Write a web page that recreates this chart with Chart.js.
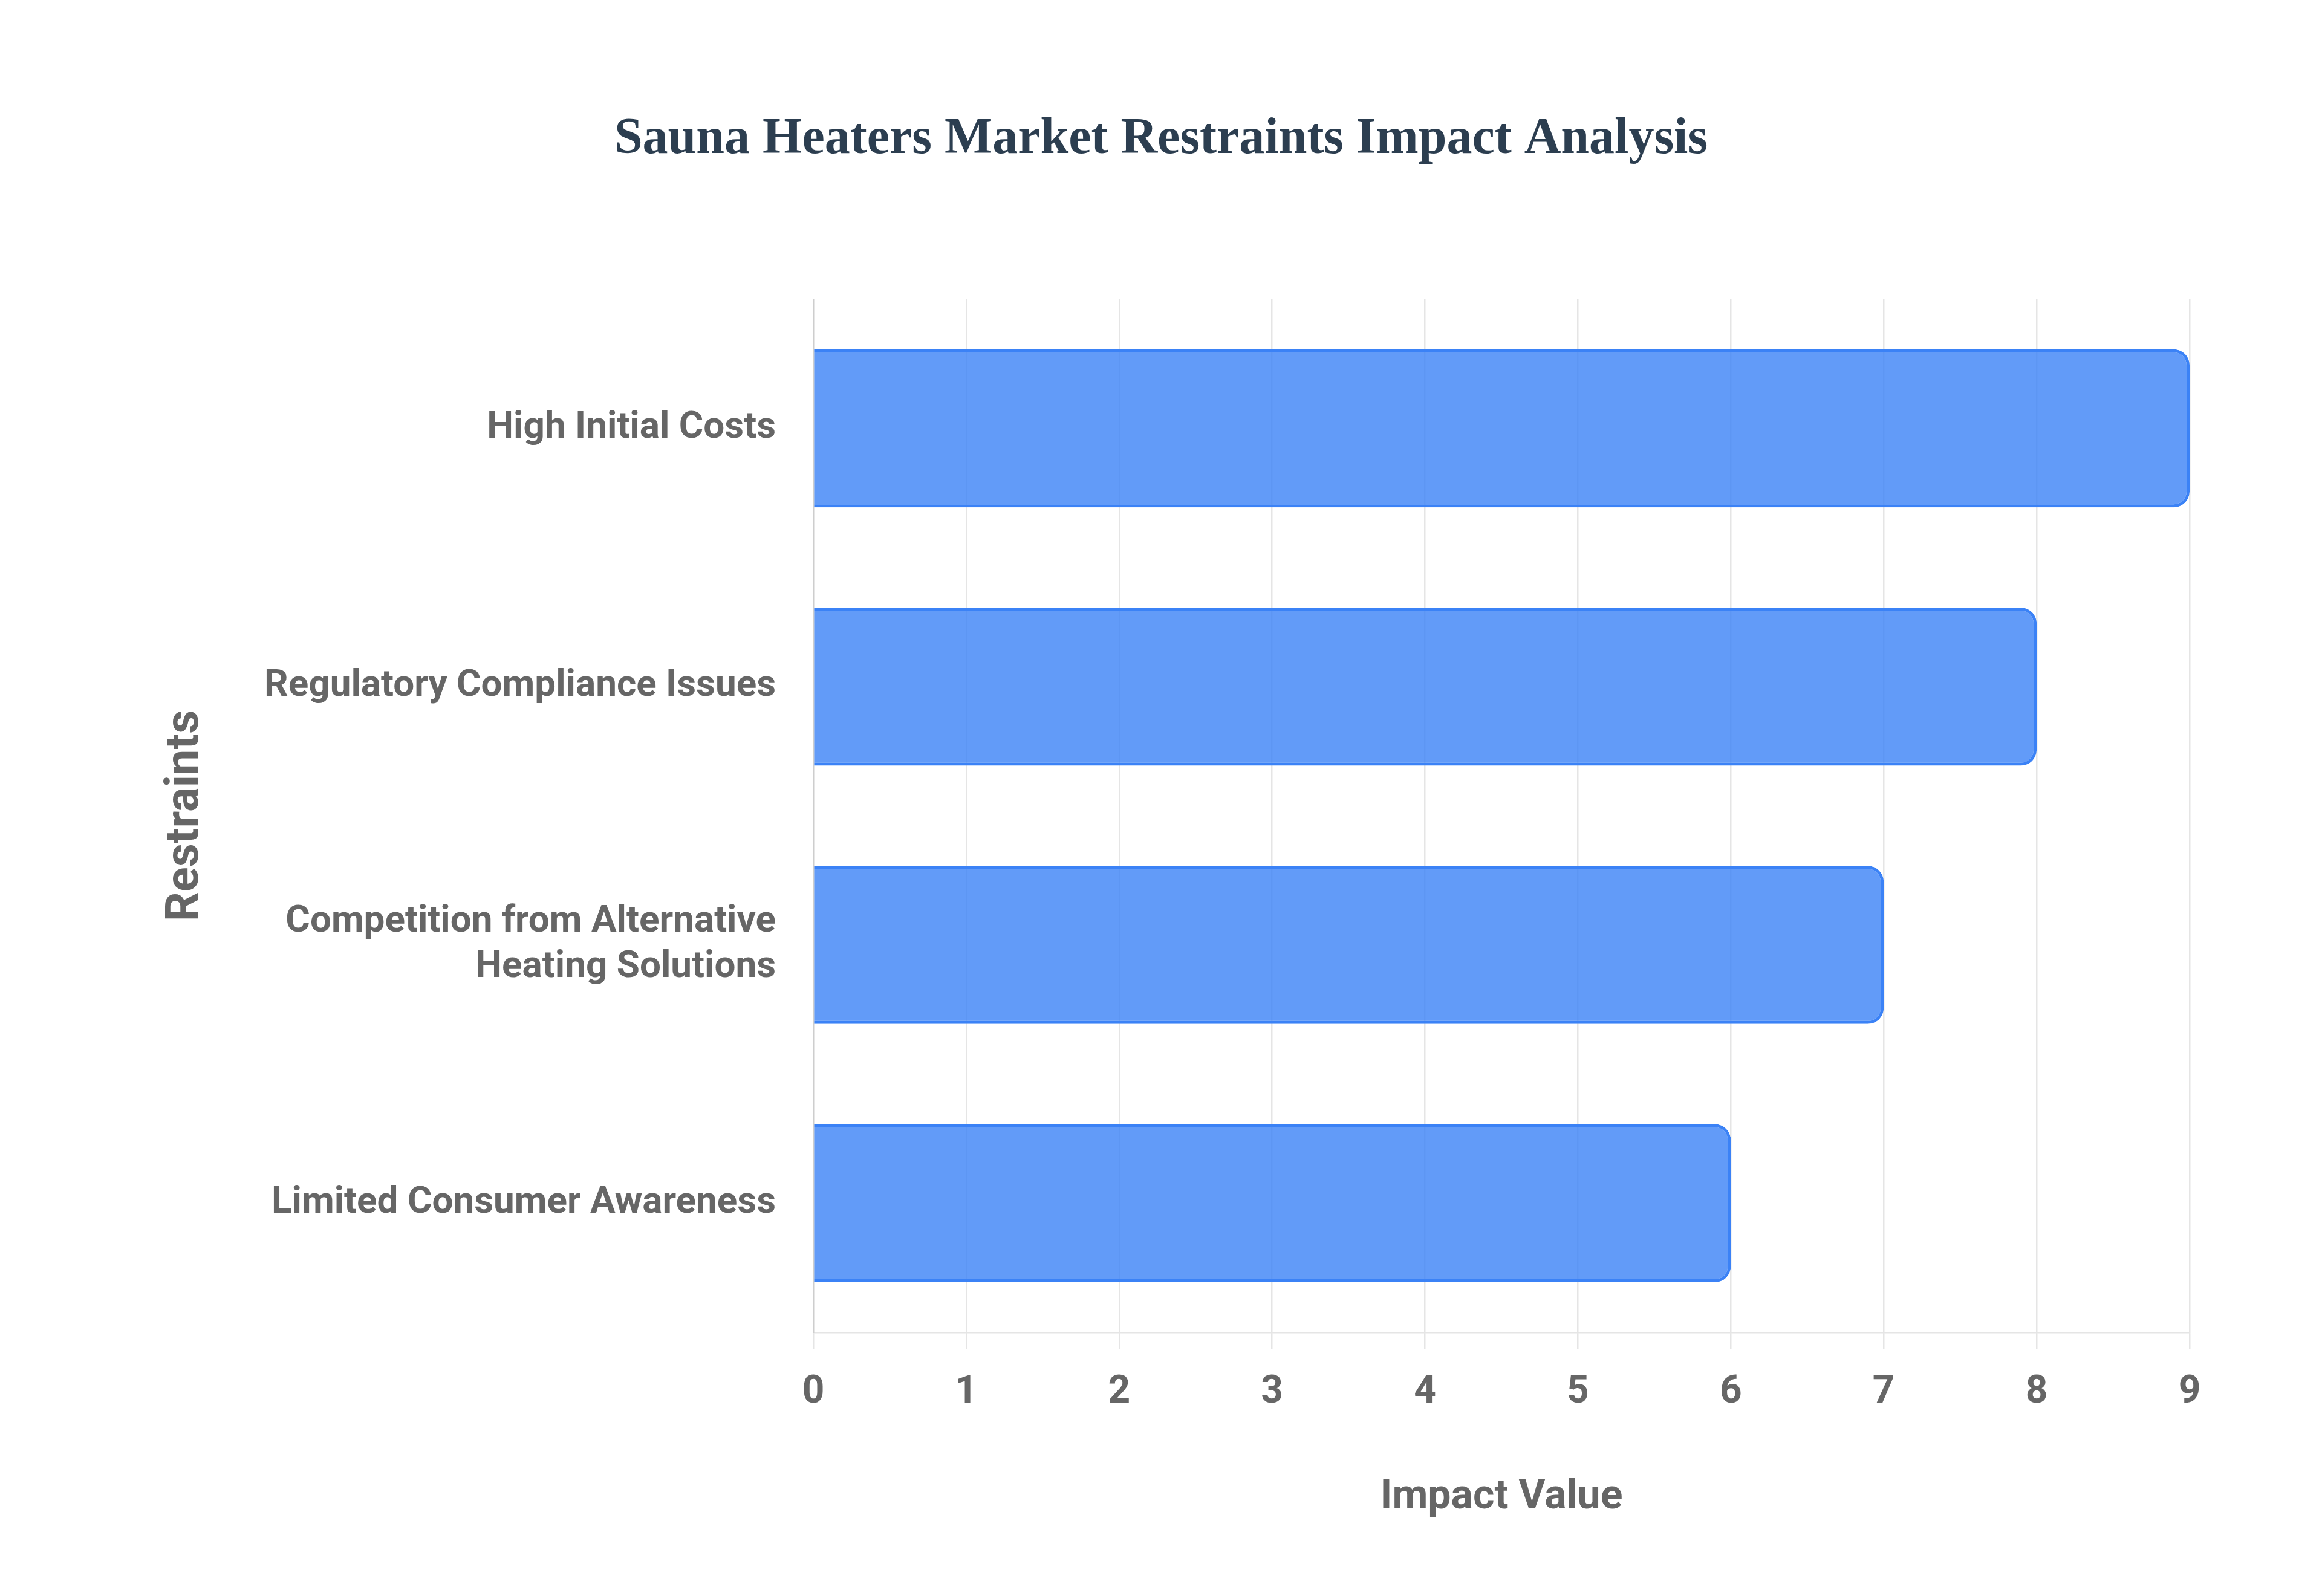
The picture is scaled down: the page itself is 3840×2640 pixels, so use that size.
<!DOCTYPE html>
<html>
<head>
<meta charset="utf-8">
<title>Sauna Heaters Market Restraints Impact Analysis</title>
<script src="https://cdn.jsdelivr.net/npm/chart.js@4.4.1/dist/chart.umd.min.js"></script>
<style>
  html, body { margin: 0; padding: 0; background: #fff; overflow: hidden; }
  #chart { display: block; }
</style>
</head>
<body>
<canvas id="chart" width="3840" height="2640"></canvas>
<script>
// categories top to bottom, as they read on the y axis
const RESTRAINTS = [
  "High Initial Costs",
  "Regulatory Compliance Issues",
  ["Competition from Alternative", "Heating Solutions"],
  "Limited Consumer Awareness",
];
const IMPACT = [9, 8, 7, 6];

const SANS = "Roboto, 'Liberation Sans', Arial, sans-serif";
const SERIF = "'Liberation Serif', 'Times New Roman', serif";
const GREY = "#666666";
const GRID = "rgba(0,0,0,0.1)";
const BLUE = "#3b82f6";

new Chart(document.getElementById("chart"), {
  type: "bar",
  data: {
    labels: RESTRAINTS,
    datasets: [
      {
        label: "Impact Value",
        data: IMPACT,
        backgroundColor: "rgba(59,130,246,0.8)",
        borderColor: BLUE,
        borderWidth: 5,
        borderRadius: 26,
        categoryPercentage: 0.8,
        barPercentage: 0.765,
      },
    ],
  },
  options: {
    indexAxis: "y",
    responsive: false,
    devicePixelRatio: 1,
    animation: false,
    layout: { padding: 0 },
    plugins: {
      legend: { display: false },
      tooltip: { enabled: false },
      title: {
        display: true,
        text: "Sauna Heaters Market Restraints Impact Analysis",
        color: "#2c3e50",
        font: { family: SERIF, size: 84, weight: "bold" },
        padding: { top: 181, bottom: 213 },
      },
    },
    scales: {
      x: {
        beginAtZero: true,
        grid: { color: GRID, lineWidth: 2.5, tickLength: 28 },
        border: { color: GRID, width: 2.5 },
        ticks: {
          stepSize: 1,
          color: GREY,
          padding: 34,
          font: { family: SANS, size: 64, weight: "bold" },
        },
        title: {
          display: true,
          text: "Impact Value",
          color: GREY,
          font: { family: SANS, size: 68, weight: "bold" },
          padding: { top: 4, bottom: 121 },
        },
        afterFit: (axis) => {
          axis.height = 2640 - 2204;
        },
      },
      y: {
        grid: { display: false, drawTicks: false },
        border: { color: GRID, width: 2.5 },
        ticks: {
          color: GREY,
          padding: 62,
          font: { family: SANS, size: 62, weight: "bold" },
        },
        title: {
          display: true,
          text: "Restraints",
          color: GREY,
          font: { family: SANS, size: 76, weight: "bold" },
          padding: { top: 262, bottom: 4 },
        },
        afterFit: (axis) => {
          axis.width = 1345;
        },
      },
      // empty spacer on the right so the title centres on the whole canvas
      gap: {
        type: "linear",
        position: "right",
        grid: { display: false },
        border: { display: false },
        ticks: { display: false },
        afterFit: (axis) => {
          axis.width = 219;
        },
      },
    },
  },
});
</script>
</body>
</html>
